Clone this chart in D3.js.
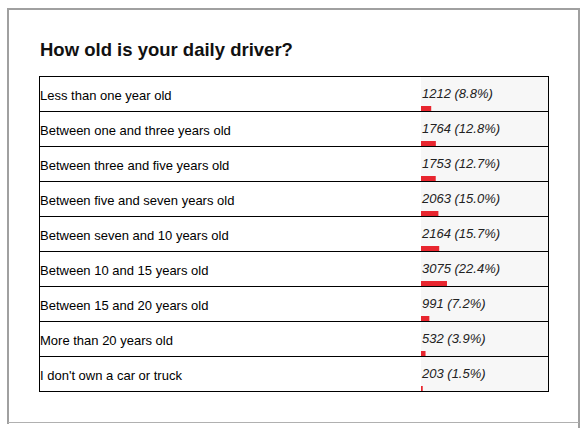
<!DOCTYPE html>
<html>
<head>
<meta charset="utf-8">
<script src="https://cdn.jsdelivr.net/npm/d3@7"></script>
<style>
  body { margin: 0; background: #fff; }
  text { font-family: Arial, "Liberation Sans", sans-serif; }
</style>
</head>
<body>
<script>
// survey answers, counts and shares
var categories = [
  "Less than one year old",
  "Between one and three years old",
  "Between three and five years old",
  "Between five and seven years old",
  "Between seven and 10 years old",
  "Between 10 and 15 years old",
  "Between 15 and 20 years old",
  "More than 20 years old",
  "I don't own a car or truck"
];
var counts = [1212, 1764, 1753, 2063, 2164, 3075, 991, 532, 203];
var percents = [8.8, 12.8, 12.7, 15.0, 15.7, 22.4, 7.2, 3.9, 1.5];

var W = 588, H = 428;
var tableLeft = 39.5, tableRight = 548.5, valueLeft = 421;

var svg = d3.select("body").append("svg")
  .attr("width", W)
  .attr("height", H);

// outer frame
svg.append("line").attr("x1", 8).attr("x2", 8).attr("y1", 8).attr("y2", 424)
  .attr("stroke", "#a0a0a0").attr("stroke-width", 2);
svg.append("line").attr("x1", 579).attr("x2", 579).attr("y1", 8).attr("y2", 428)
  .attr("stroke", "#a0a0a0").attr("stroke-width", 2);
svg.append("line").attr("x1", 7).attr("x2", 580).attr("y1", 9).attr("y2", 9)
  .attr("stroke", "#a0a0a0").attr("stroke-width", 2);
svg.append("line").attr("x1", 8).attr("x2", 579).attr("y1", 422.5).attr("y2", 422.5)
  .attr("stroke", "#b0b0b0").attr("stroke-width", 1);

svg.append("text")
  .attr("x", 40)
  .attr("y", 56)
  .style("font-size", "18.5px")
  .style("font-weight", "bold")
  .attr("fill", "#111")
  .text("How old is your daily driver?");

var idx = d3.range(categories.length);

var y = d3.scaleBand()
  .domain(idx)
  .range([76, 391])
  .padding(0);

var x = d3.scaleLinear()
  .domain([0, 100])
  .range([0, 116]);

// grey value column
svg.append("rect")
  .attr("x", valueLeft)
  .attr("y", y.range()[0])
  .attr("width", tableRight - valueLeft)
  .attr("height", y.range()[1] - y.range()[0])
  .attr("fill", "#f7f7f7");

var row = svg.selectAll("g.row")
  .data(idx)
  .enter().append("g")
  .attr("class", "row")
  .attr("transform", i => `translate(0,${y(i)})`);

row.append("text")
  .attr("x", 40)
  .attr("y", 24)
  .style("font-size", "13px")
  .attr("fill", "#000")
  .text(i => categories[i]);

row.append("text")
  .attr("x", valueLeft + 1)
  .attr("y", 22)
  .style("font-size", "13px")
  .style("font-style", "italic")
  .attr("fill", "#222")
  .text(i => `${counts[i]} (${percents[i].toFixed(1)}%)`);

row.append("rect")
  .attr("x", valueLeft)
  .attr("y", y.bandwidth() - 5)
  .attr("width", i => x(percents[i]))
  .attr("height", 5)
  .attr("fill", "#e8262f");

// table grid
svg.selectAll("line.hline")
  .data(d3.range(categories.length + 1))
  .enter().append("line")
  .attr("class", "hline")
  .attr("x1", tableLeft - 0.5)
  .attr("x2", tableRight + 0.5)
  .attr("y1", i => (i < categories.length ? y(i) : y.range()[1]) + 0.5)
  .attr("y2", i => (i < categories.length ? y(i) : y.range()[1]) + 0.5)
  .attr("stroke", "#000");

[tableLeft, tableRight].forEach(function(xx) {
  svg.append("line")
    .attr("x1", xx).attr("x2", xx)
    .attr("y1", y.range()[0]).attr("y2", y.range()[1] + 1)
    .attr("stroke", "#000");
});
</script>
</body>
</html>
